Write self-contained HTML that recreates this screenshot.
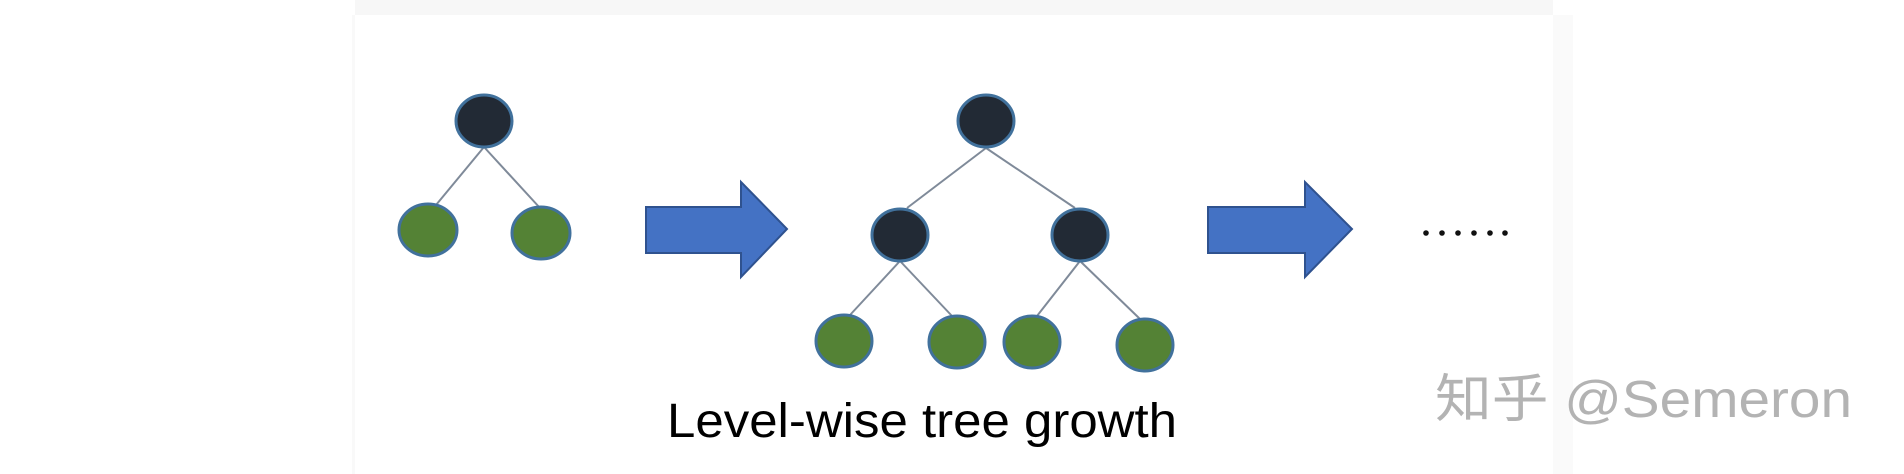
<!DOCTYPE html>
<html><head><meta charset="utf-8"><style>
html,body{margin:0;padding:0;background:#fff;}
svg{display:block}
</style></head><body>
<svg width="1904" height="474" viewBox="0 0 1904 474" xmlns="http://www.w3.org/2000/svg">
<rect x="0" y="0" width="1904" height="474" fill="#ffffff"/>
<rect x="355" y="0" width="1198" height="15" fill="#f7f7f7"/>
<rect x="352" y="15" width="3" height="459" fill="#f9f9f9"/>
<rect x="1553" y="15" width="20" height="459" fill="#fafafa"/>
<g stroke="#7f8a99" stroke-width="2">
<line x1="484" y1="147" x2="436" y2="205"/>
<line x1="484" y1="147" x2="540" y2="208"/>
<line x1="986" y1="148" x2="907" y2="208"/>
<line x1="986" y1="148" x2="1075" y2="208"/>
<line x1="900" y1="261" x2="850" y2="315"/>
<line x1="900" y1="261" x2="952" y2="316"/>
<line x1="1080" y1="261" x2="1037" y2="316"/>
<line x1="1080" y1="261" x2="1140" y2="319"/>
</g>
<g stroke="#41719c" stroke-width="3">
<ellipse cx="484" cy="121" rx="28" ry="26" fill="#222a35"/>
<ellipse cx="428" cy="230" rx="29" ry="26" fill="#548235"/>
<ellipse cx="541" cy="233" rx="29" ry="26" fill="#548235"/>
<ellipse cx="986" cy="121" rx="28" ry="26" fill="#222a35"/>
<ellipse cx="900" cy="235" rx="28" ry="26" fill="#222a35"/>
<ellipse cx="1080" cy="235" rx="28" ry="26" fill="#222a35"/>
<ellipse cx="844" cy="341" rx="28" ry="26" fill="#548235"/>
<ellipse cx="957" cy="342" rx="28" ry="26" fill="#548235"/>
<ellipse cx="1032" cy="342" rx="28" ry="26" fill="#548235"/>
<ellipse cx="1145" cy="345" rx="28" ry="26" fill="#548235"/>
</g>
<g fill="#4472c4" stroke="#2f528f" stroke-width="2">
<polygon points="646,207 741,207 741,182 787,229 741,277 741,253 646,253"/>
<polygon points="1208,207 1305,207 1305,182 1352,229 1305,277 1305,253 1208,253"/>
</g>
<g fill="#111">
<circle cx="1426" cy="233" r="2.8"/><circle cx="1442" cy="233" r="2.8"/><circle cx="1458" cy="233" r="2.8"/>
<circle cx="1474" cy="233" r="2.8"/><circle cx="1490" cy="233" r="2.8"/><circle cx="1505" cy="233" r="2.8"/>
</g>
<text x="667" y="437" font-family="Liberation Sans, sans-serif" font-size="48" fill="#000" textLength="510" lengthAdjust="spacingAndGlyphs">Level-wise tree growth</text>
<text x="1435" y="417" font-family="Liberation Sans, 'Noto Sans CJK SC', sans-serif" font-size="52" fill="#b3b3b3" textLength="417" lengthAdjust="spacingAndGlyphs">知乎 @Semeron</text>
</svg>
</body></html>
